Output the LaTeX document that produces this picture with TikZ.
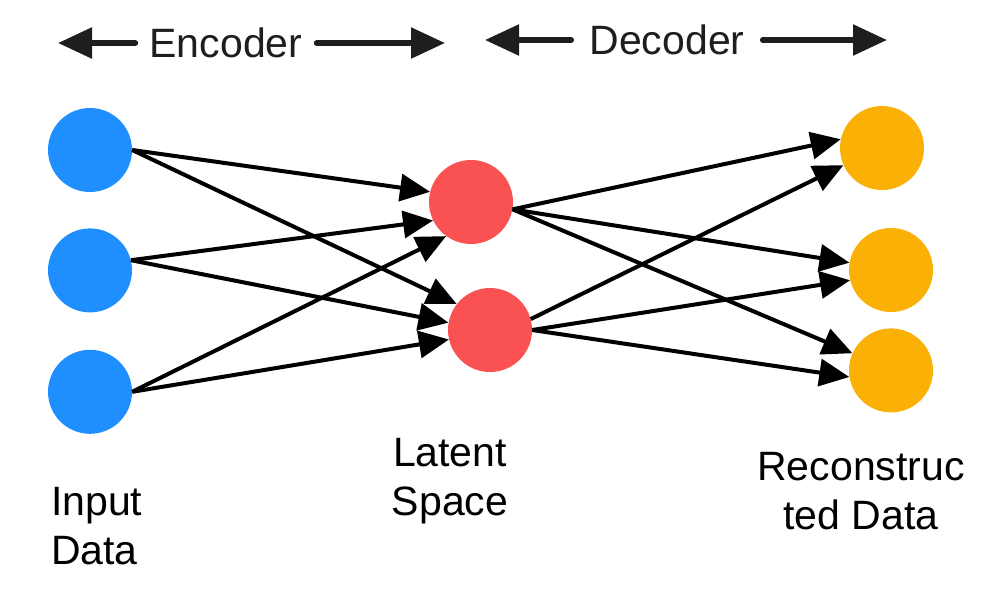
\documentclass[tikz,border=0pt]{standalone}
\usepackage{fontspec}
\setmainfont{Liberation Sans}
\usepackage{xcolor}
\usepackage{tikz}
\usetikzlibrary{arrows.meta, positioning}
\definecolor{inblue}{HTML}{1F8FFF}
\definecolor{latred}{HTML}{FA5252}
\definecolor{outyellow}{HTML}{FAB005}
\definecolor{ink}{HTML}{1E1E1E}

\begin{document}
\begin{tikzpicture}[x=1pt, y=-1pt]
\tikzstyle{unit} = [circle, minimum size=84pt, inner sep=0pt]
\tikzstyle{lbltext} = [font=\fontsize{41}{49}\selectfont, inner sep=0pt]
\tikzstyle{line} = [draw, line width=4pt, -{Triangle[length=30pt,width=27pt]}]
\tikzstyle{span} = [draw=ink, line width=5.5pt, line cap=round, -{Triangle[length=34pt,width=30pt]}]

\useasboundingbox (0,0) rectangle (993,598);

\node [unit, fill=inblue] (in1) at (90,150) {};
\node [unit, fill=inblue, below=36pt of in1] (in2) {};
\node [unit, fill=inblue, below=37pt of in2] (in3) {};
\node [unit, fill=latred] (lat1) at (471,202) {};
\node [unit, fill=latred] (lat2) at (490,330) {};
\node [unit, fill=outyellow] (out1) at (882,148) {};
\node [unit, fill=outyellow] (out2) at (891,270) {};
\node [unit, fill=outyellow, below=16pt of out2] (out3) {};

\node [lbltext, inner xsep=14pt, text=ink] (enc) at (226,43) {Encoder};
\node [lbltext, inner xsep=18pt, text=ink] (dec) at (667,40) {Decoder};
\coordinate (encL) at (58,43);
\coordinate (encR) at (445,43);
\coordinate (decL) at (485,40);
\coordinate (decR) at (887,40);

\node [lbltext, align=left, anchor=north west] (inlbl) at (51,487) {Input\\Data};
\node [lbltext, align=center, anchor=north] (latlbl) at (450,438) {Latent\\Space};
\node [lbltext, align=center, anchor=north] (outlbl) at (861,452) {Reconstruc\\ted Data};

\path [span] (enc) -- (encL);
\path [span] (enc) -- (encR);
\path [span] (dec) -- (decL);
\path [span] (dec) -- (decR);

\path [line] (in1.east) -- (lat1.166);
\path [line] (in1.east) -- (lat2.142);
\path [line] (in2.14) -- (lat1.206);
\path [line] (in2.14) -- (lat2.170);
\path [line] (in3.east) -- (lat1.234);
\path [line] (in3.east) -- (lat2.193);
\path [line] (lat1.350) -- (out1.168);
\path [line] (lat1.350) -- (out2.170);
\path [line] (lat1.350) -- (out3.156);
\path [line] (lat2.15) -- (out1.204);
\path [line] (lat2.east) -- (out2.194);
\path [line] (lat2.east) -- (out3.189);

\end{tikzpicture}
\end{document}
